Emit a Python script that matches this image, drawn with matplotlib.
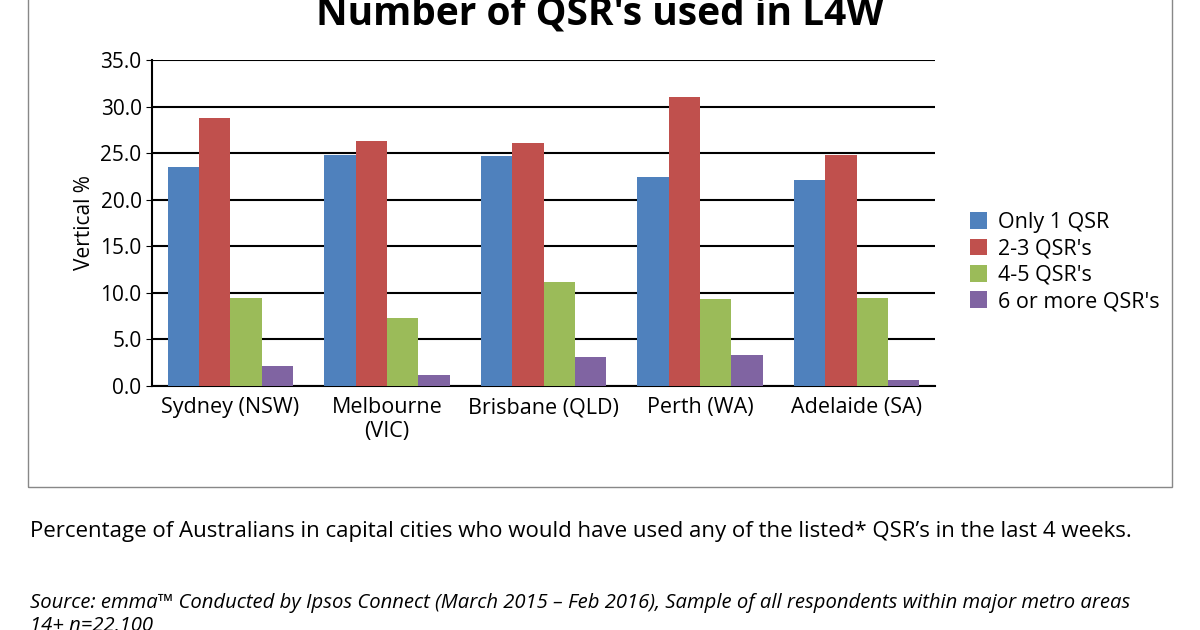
import matplotlib
matplotlib.use("Agg")
import matplotlib.pyplot as plt
import numpy as np
from matplotlib.patches import Rectangle

plt.rcParams['font.family'] = ['Open Sans', 'DejaVu Sans']

cities = ["Sydney (NSW)", "Melbourne\n(VIC)", "Brisbane (QLD)", "Perth (WA)", "Adelaide (SA)"]
series = ["Only 1 QSR", "2-3 QSR's", "4-5 QSR's", "6 or more QSR's"]
only1 = [23.5, 24.8, 24.7, 22.4, 22.1]
two3 = [28.8, 26.3, 26.1, 31.0, 24.8]
four5 = [9.4, 7.3, 11.2, 9.3, 9.4]
six_plus = [2.1, 1.2, 3.1, 3.3, 0.6]
yticks = [0, 5, 10, 15, 20, 25, 30, 35]
colors = ["#4F81BD", "#C0504D", "#9BBB59", "#8064A2"]

fig = plt.figure(figsize=(12, 6.3), dpi=100)
fig.patches.append(Rectangle((28/1200, 1-487/630), 1144/1200, 487/630 + 0.02,
                             transform=fig.transFigure, fill=False, edgecolor="#888888", lw=1))
ax = fig.add_axes([152/1200, 1-386/630, 783/1200, 326/630])
x = np.arange(len(cities))
w = 0.2
for i, (vals, c, lab) in enumerate(zip([only1, two3, four5, six_plus], colors, series)):
    ax.bar(x + (i - 1.5) * w, vals, w, color=c, label=lab, zorder=3)
ax.set_ylim(0, 35)
ax.set_xlim(-0.5, len(cities) - 0.5)
ax.set_yticks(yticks)
ax.set_yticklabels([f"{v:.1f}" for v in yticks], fontsize=15)
ax.set_xticks(x)
ax.set_xticklabels(cities, fontsize=15.5)
ax.tick_params(axis='x', length=0, pad=8)
ax.tick_params(axis='y', length=4)
ax.grid(axis='y', color='black', lw=1.5, zorder=0)
for s in ["top", "right"]:
    ax.spines[s].set_visible(False)
ax.spines["left"].set_linewidth(1.5)
ax.spines["bottom"].set_linewidth(1.5)
ax.set_ylabel("Vertical %", fontsize=15)
ax.legend(loc="center left", bbox_to_anchor=(1.02, 0.38), frameon=False, fontsize=15.5,
          handlelength=0.8, handleheight=0.8, labelspacing=0.25, handletextpad=0.5)
fig.text(0.5, 1-14/630, "Number of QSR's used in L4W", ha="center", va="center",
         fontsize=28, fontweight="bold")
fig.text(30/1200, 1-532/630, "Percentage of Australians in capital cities who would have used any of the listed* QSR\u2019s in the last 4 weeks.",
         fontsize=16, va="center")
fig.text(30/1200, 1-603/630, "Source: emma\u2122 Conducted by Ipsos Connect (March 2015 \u2013 Feb 2016), Sample of all respondents within major metro areas",
         fontsize=14.6, style="italic", va="center")
fig.text(30/1200, 1-626/630, "14+ n=22,100", fontsize=14.6, style="italic", va="center")
fig.savefig("out.png", dpi=100)
